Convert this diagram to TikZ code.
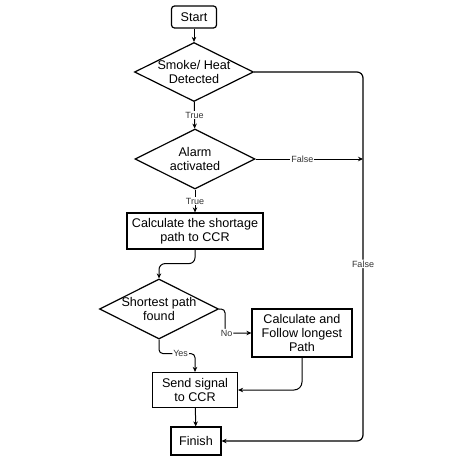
\documentclass[tikz,border=0pt]{standalone}
\usepackage{fontspec}
\setmainfont{Liberation Sans}
\usetikzlibrary{shapes.geometric,arrows.meta}

\tikzset{
    process/.style={draw, line width=1.2pt, align=center, inner sep=2pt,
        font=\fontsize{12.6}{14}\selectfont},
    decision/.style={draw, line width=1.2pt, diamond, aspect=2, inner sep=-4pt,
        align=center, minimum width=119pt, minimum height=59pt,
        font=\fontsize{12.6}{14}\selectfont},
    flow/.style={line width=1pt, -{Stealth[length=5pt,width=4.5pt]}},
    lbl/.style={fill=white, inner sep=1pt, text=black!80,
        font=\fontsize{9}{10}\selectfont},
}

\begin{document}
\begin{tikzpicture}[x=1pt,y=-1pt]
    \useasboundingbox (0,0) rectangle (474,474);
    % main column
    \node[process, rounded corners=3pt, minimum width=45pt, minimum height=22pt]
        (start) at (194,17) {Start};
    \node[decision] (smoke) at (194,72) {Smoke/ Heat\\Detected};
    \node[decision, minimum width=120pt, minimum height=60pt]
        (alarm) at (195,159) {Alarm\\activated};
    \node[process, minimum width=136pt, minimum height=36pt]
        (shortage) at (195,231) {Calculate the shortage\\path to CCR};
    \node[decision, minimum height=60pt] (found) at (159,309) {Shortest path\\found};
    \node[process, minimum width=100pt, minimum height=48pt]
        (longest) at (302,333) {Calculate and\\Follow longest\\Path};
    \node[process, minimum width=85pt, minimum height=35pt]
        (signal) at (195,390) {Send signal\\to CCR};
    \node[process, minimum width=50pt, minimum height=28pt]
        (finish) at (196,441) {Finish};
    \coordinate (rail) at (363,0);

    \draw[flow] (start) -- (smoke);
    \draw[flow] (smoke) -- node[lbl] {True} (alarm);
    \draw[flow, line width=1.2pt, rounded corners=6pt]
        (smoke.east) -- (smoke.east -| rail)
        -- node[lbl, pos=0.52] {False} (rail |- finish) -- (finish);
    \draw[flow] (alarm.east) -- node[lbl, pos=0.435] {False} (alarm.east -| rail);
    \draw[flow] (alarm) -- node[lbl] {True} (shortage);
    \draw[flow, rounded corners=6pt] (shortage.south) -- ++(0,14) -| (found.north);
    \draw[flow, rounded corners=4pt]
        (found.east) -- ++(6,0) |- node[lbl, pos=0.53] {No} (longest.west);
    \draw[flow, rounded corners=4pt]
        (found.south) -- ++(0,14) -| node[lbl, pos=0.3] {Yes} (signal.north);
    \draw[flow, rounded corners=8pt] (longest.south) |- (signal.east);
    \draw[flow] (signal) -- (finish);
\end{tikzpicture}
\end{document}
